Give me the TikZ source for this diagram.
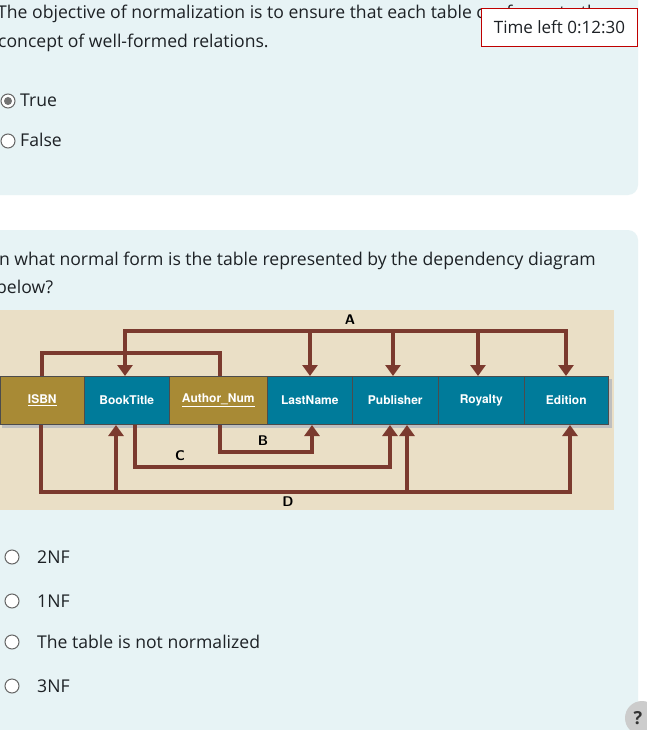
\documentclass[tikz,border=0pt]{standalone}
\usepackage{fontspec}
\setmainfont{Open Sans}
\newfontfamily\tabfont{TeX Gyre Heros}
\usetikzlibrary{arrows.meta}
\definecolor{panel}{HTML}{E7F3F5}
\definecolor{beige}{HTML}{EADFC6}
\definecolor{gold}{HTML}{A88A35}
\definecolor{teal}{HTML}{007B9A}
\definecolor{arr}{HTML}{7B3A2E}
\definecolor{txt}{HTML}{1D2125}
\begin{document}
\begin{tikzpicture}[x=1pt,y=-1pt,
  qtext/.style={anchor=base west,inner sep=0,text=txt,font=\fontsize{17.6}{20}\selectfont},
  cell/.style={draw=black!70,line width=0.6pt,text=white,font=\tabfont\bfseries\fontsize{12}{14}\selectfont,inner sep=0,minimum height=48pt,anchor=north west},
  dep/.style={draw=arr,line width=4.5pt},
  deparr/.style={draw=arr,line width=4.5pt,-{Triangle[length=11pt,width=15pt]}},
  lab/.style={font=\sffamily\bfseries\fontsize{14}{16}\selectfont,inner sep=0},
  radio/.style={circle,draw=black!60,line width=1pt,minimum size=14pt,inner sep=0,fill=white}]
\useasboundingbox (0,0) rectangle (647,730);
\fill[white] (0,0) rectangle (647,730);
\begin{scope}
\clip (0,0) rectangle (647,730);
\fill[panel,rounded corners=10pt] (-20,-20) rectangle (638,195);
\fill[panel,rounded corners=10pt] (-20,230) rectangle (638,760);
\node[qtext] (l1) at (-3,19) {The objective of normalization is to ensure that each table conforms to the};
\node[qtext] (l2) at (-2,48) {concept of well-formed relations.};
\node[radio] (r1) at (8,101) {};
\fill[black!55] (r1) circle (4pt);
\node[qtext] (t1) at (20,107) {True};
\node[radio] (r2) at (8,141) {};
\node[qtext] (t2) at (20,147) {False};
\node[qtext] (q1) at (-6,265) {In what normal form is the table represented by the dependency diagram};
\node[qtext] (q2) at (-4,293) {below?};
\end{scope}
\node[draw=red!75!black,fill=white,line width=1pt,minimum width=156pt,minimum height=38pt,anchor=north west,inner sep=0,text=txt,font=\fontsize{17}{20}\selectfont] (timer) at (481,8) {Time left 0:12:30};
% diagram
\fill[beige] (0,310) rectangle (614,510);
\fill[black!25] (2,379) rectangle (612,428);
\node[cell,fill=gold,minimum width=84pt] (isbn) at (0,376) {\underline{ISBN}};
\node[cell,fill=teal,minimum width=85pt] (bt) at (84,376) {BookTitle};
\node[cell,fill=gold,minimum width=98pt] (an) at (169,376) {\underline{Author\_Num}};
\node[cell,fill=teal,minimum width=85pt] (ln) at (267,376) {LastName};
\node[cell,fill=teal,minimum width=86pt] (pub) at (352,376) {Publisher};
\node[cell,fill=teal,minimum width=86pt] (roy) at (438,376) {Royalty};
\node[cell,fill=teal,minimum width=84pt] (ed) at (524,376) {Edition};
% bracket ISBN-Author
\draw[dep,line cap=butt] (42,376) -- (42,353) -- (220,353) -- (220,376);
% A
\draw[deparr] (125,329) -- (125,376);
\foreach \x in {310,393,478,566} \draw[deparr] (\x,331) -- (\x,376);
\draw[dep] (123,331) -- (568,331);
\node[lab] (la) at (350,320) {A};
% B
\draw[deparr] (220,425) -- (220,452) -- (312,452) -- (312,425);
\node[lab] (lb) at (263,441) {B};
% C
\draw[deparr] (135,425) -- (135,467) -- (390,467) -- (390,425);
\node[lab] (lc) at (180,456) {C};
% D
\draw[deparr] (41,425) -- (41,492) -- (570,492) -- (570,425);
\draw[deparr] (116,492) -- (116,425);
\draw[deparr] (407,492) -- (407,425);
\node[lab] (ld) at (288,502) {D};
% options
\foreach \y/\t [count=\i] in {557/2NF,601/1NF,642/The table is not normalized,686/3NF}{
  \node[radio] (o\i) at (12,\y) {};
  \node[qtext] (ot\i) at (37,\y+6) {\t};
}
\fill[black!20] (642,718) circle (17pt);
\node[font=\bfseries\fontsize{18}{20}\selectfont,text=black!80] (help) at (638,718) {?};
\end{tikzpicture}
\end{document}
